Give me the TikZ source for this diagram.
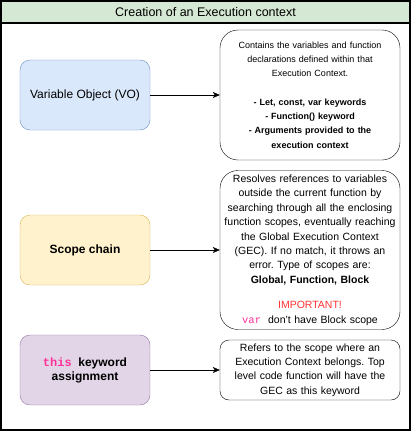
\documentclass[tikz,border=0pt]{standalone}
\usepackage{fontspec}
\setmainfont{Liberation Sans}
\setmonofont{Liberation Mono}
\usetikzlibrary{positioning,arrows.meta}
\definecolor{hdrgreen}{HTML}{D5E8D4}
\definecolor{voblue}{HTML}{DAE8FC}
\definecolor{voline}{HTML}{6C8EBF}
\definecolor{scyellow}{HTML}{FFF2CC}
\definecolor{scline}{HTML}{D6B656}
\definecolor{thpurple}{HTML}{E1D5E7}
\definecolor{thline}{HTML}{9673A6}
\definecolor{kwpink}{HTML}{FF3399}
\definecolor{alertred}{HTML}{FF3333}
\frenchspacing

\begin{document}
\begin{tikzpicture}[x=1pt, y=-1pt,
leftbox/.style={rectangle, rounded corners=10pt, minimum width=130pt, minimum height=70pt, inner sep=0pt, align=center, font=\fontsize{12}{14}\selectfont},
notebox/.style={rectangle, draw=black, rounded corners=#1, fill=white, text width=180pt, inner sep=0pt, align=center},
notebox/.default=18pt,
node distance=225pt, on grid, >={Stealth[length=7pt,width=6pt,inset=2pt]},
]
\useasboundingbox (0,0) rectangle (411,431);
\node[draw=black, line width=1.5pt, minimum width=409pt, minimum height=429pt, inner sep=0pt] (frame) at (205.5,215.5) {};
\node[draw=black, line width=1.5pt, fill=hdrgreen, minimum width=409pt, minimum height=22pt, inner sep=0pt, font=\fontsize{12.5}{14}\selectfont] (title) at (205.5,12) {Creation of an Execution context};
%%%
%% Boxes
\node[leftbox, draw=voline, fill=voblue] (vo) at (85,95) {Variable Object (VO)};
\node[leftbox, draw=scline, fill=scyellow, font=\fontsize{12}{14}\selectfont\bfseries] (scope) at (85,250) {Scope chain};
\node[leftbox, draw=thline, fill=thpurple, font=\fontsize{12}{14}\selectfont\bfseries] (this) at (85,370) {{\ttfamily\color{kwpink}this}\ \ keyword\\assignment};
\node[notebox, minimum height=130pt, font=\fontsize{9}{14.3}\selectfont] (vonote) [right=of vo] {Contains the variables and function\\declarations defined within that\\Execution Context.\\[14.3pt]
\textbf{- Let, const, var keywords}\\\textbf{- Function() keyword}\\\textbf{- Arguments provided to the}\\\textbf{execution context}};
\node[notebox, minimum height=159pt, font=\fontsize{10.5}{14.4}\selectfont] (scopenote) [right=of scope] {Resolves references to variables\\outside the current function by\\searching through all the enclosing\\function scopes, eventually reaching\\the Global Execution Context\\(GEC). If no match, it throws an\\error. Type of scopes are:\\\textbf{Global, Function, Block}\\[11pt]
{\color{alertred}IMPORTANT!}\\{\ttfamily\color{kwpink}var}\ \ don't have Block scope};
\node[notebox=9pt, minimum height=60pt, font=\fontsize{10.5}{14.2}\selectfont] (thisnote) [right=of this] {Refers to the scope where an\\Execution Context belongs. Top\\level code function will have the\\GEC as this keyword};
%%%
%% Lines
\draw[->] (vo.east) -- (vonote.west);
\draw[->] (scope.east) -- (scopenote.west);
\draw[->] (this.east) -- (thisnote.west);
\end{tikzpicture}
\end{document}
